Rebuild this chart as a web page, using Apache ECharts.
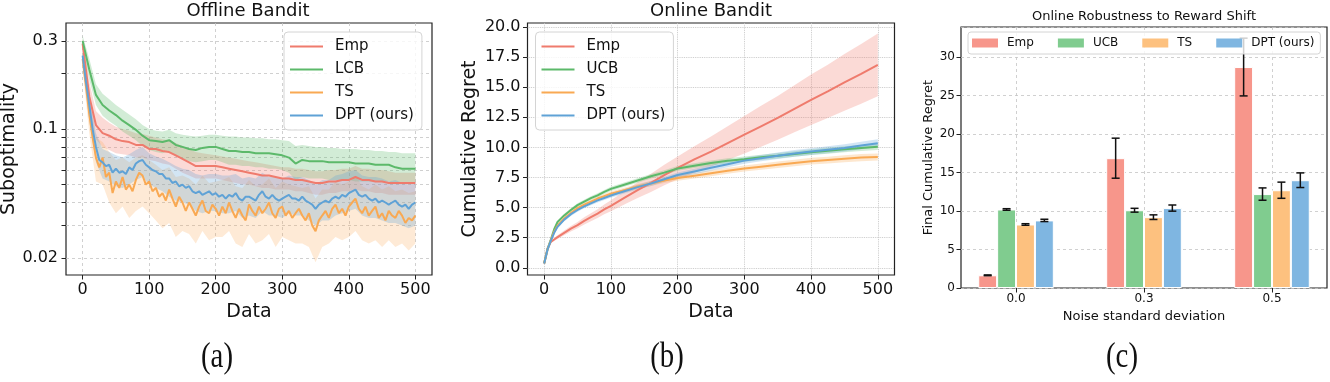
<!DOCTYPE html>
<html>
<head>
<meta charset="utf-8">
<script src="https://cdn.jsdelivr.net/npm/echarts@6/dist/echarts.min.js"></script>
<style>
  html, body { margin: 0; padding: 0; background: #fff; }
  #main { width: 1330px; height: 382px; }
</style>
</head>
<body>
<div id="main"></div>
<script>
// ---------- (a) offline bandit, read every 10 steps (bands, Emp, LCB) / 5 steps (TS, DPT)
var empA   = [0.29,0.15,0.105,0.095,0.092,0.088,0.086,0.085,0.082,0.082,
              0.078,0.078,0.076,0.075,0.072,0.069,0.066,0.063,0.063,0.063,
              0.063,0.062,0.061,0.06,0.059,0.058,0.057,0.056,0.056,0.055,
              0.054,0.054,0.053,0.053,0.052,0.051,0.051,0.052,0.052,0.053,
              0.053,0.055,0.053,0.053,0.052,0.052,0.051,0.051,0.051,0.051,0.051];
var empAHi = [0.31,0.18,0.125,0.115,0.108,0.103,0.1,0.098,0.095,0.094,
              0.092,0.09,0.088,0.087,0.084,0.081,0.078,0.075,0.074,0.073,
              0.072,0.071,0.07,0.069,0.068,0.067,0.066,0.065,0.064,0.063,
              0.062,0.062,0.061,0.061,0.06,0.059,0.059,0.06,0.06,0.061,
              0.061,0.063,0.061,0.061,0.06,0.06,0.059,0.058,0.058,0.058,0.058];
var empALo = [0.27,0.125,0.088,0.08,0.077,0.074,0.073,0.072,0.07,0.07,
              0.068,0.067,0.065,0.064,0.061,0.058,0.056,0.054,0.054,0.054,
              0.054,0.053,0.052,0.051,0.05,0.05,0.049,0.048,0.048,0.047,
              0.047,0.047,0.046,0.046,0.045,0.044,0.044,0.045,0.045,0.046,
              0.046,0.047,0.046,0.046,0.045,0.045,0.044,0.044,0.044,0.044,0.044];

var lcbA   = [0.3,0.21,0.153,0.135,0.126,0.119,0.111,0.105,0.099,0.092,
              0.087,0.086,0.085,0.087,0.082,0.08,0.078,0.077,0.079,0.08,
              0.08,0.078,0.076,0.076,0.075,0.075,0.074,0.074,0.074,0.073,
              0.072,0.07,0.065,0.068,0.067,0.067,0.067,0.066,0.066,0.066,
              0.066,0.065,0.065,0.065,0.064,0.064,0.064,0.062,0.061,0.061,0.061];
var lcbAHi = [0.32,0.24,0.175,0.155,0.145,0.135,0.127,0.12,0.113,0.105,
              0.1,0.098,0.097,0.099,0.095,0.093,0.092,0.091,0.092,0.093,
              0.093,0.092,0.091,0.091,0.09,0.09,0.089,0.089,0.088,0.088,
              0.087,0.086,0.081,0.082,0.081,0.08,0.08,0.079,0.079,0.078,
              0.078,0.078,0.077,0.077,0.076,0.076,0.075,0.075,0.074,0.074,0.074];
var lcbALo = [0.28,0.185,0.135,0.118,0.11,0.104,0.097,0.092,0.087,0.081,
              0.077,0.075,0.074,0.076,0.071,0.069,0.067,0.066,0.067,0.068,
              0.068,0.066,0.064,0.064,0.063,0.063,0.062,0.062,0.061,0.061,
              0.06,0.058,0.053,0.055,0.054,0.054,0.054,0.053,0.053,0.053,
              0.053,0.052,0.052,0.052,0.052,0.052,0.052,0.051,0.051,0.051,0.051];

var tsA    = [0.24,0.17,0.12,0.09,0.07,0.062,0.07,0.055,0.058,0.045,
              0.052,0.048,0.055,0.047,0.05,0.046,0.053,0.058,0.056,0.05,
              0.052,0.046,0.048,0.043,0.045,0.041,0.047,0.042,0.038,0.043,
              0.04,0.036,0.04,0.037,0.034,0.038,0.041,0.036,0.035,0.039,
              0.037,0.034,0.038,0.035,0.04,0.036,0.033,0.037,0.034,0.032,
              0.039,0.036,0.034,0.038,0.035,0.037,0.04,0.035,0.033,0.037,
              0.038,0.034,0.036,0.033,0.035,0.037,0.034,0.032,0.035,0.03,
              0.028,0.032,0.034,0.036,0.033,0.037,0.039,0.035,0.037,0.034,
              0.038,0.04,0.042,0.037,0.035,0.038,0.034,0.036,0.038,0.033,
              0.035,0.032,0.036,0.034,0.033,0.036,0.034,0.031,0.033,0.032,0.034];
var tsAHi  = [0.27,0.15,0.09,0.085,0.075,0.068,0.07,0.066,0.07,0.072,
              0.068,0.064,0.06,0.062,0.055,0.056,0.054,0.05,0.056,0.051,
              0.052,0.053,0.055,0.049,0.048,0.053,0.049,0.05,0.054,0.048,
              0.052,0.05,0.049,0.048,0.049,0.042,0.047,0.047,0.052,0.05,
              0.052,0.056,0.049,0.047,0.05,0.047,0.049,0.046,0.047,0.045,0.046];
var tsALo  = [0.21,0.095,0.052,0.05,0.04,0.035,0.038,0.033,0.036,0.038,
              0.035,0.032,0.029,0.031,0.026,0.028,0.027,0.024,0.028,0.025,
              0.026,0.026,0.028,0.024,0.023,0.027,0.024,0.025,0.027,0.023,
              0.026,0.025,0.024,0.024,0.023,0.019,0.023,0.024,0.026,0.025,
              0.026,0.028,0.025,0.024,0.025,0.023,0.025,0.023,0.024,0.022,0.024];

var dptA   = [0.25,0.18,0.135,0.1,0.08,0.068,0.066,0.063,0.064,0.058,
              0.061,0.058,0.059,0.057,0.062,0.06,0.065,0.067,0.068,0.064,
              0.062,0.06,0.059,0.057,0.057,0.054,0.054,0.051,0.052,0.049,
              0.05,0.048,0.049,0.046,0.045,0.046,0.044,0.045,0.046,0.044,
              0.045,0.043,0.044,0.042,0.044,0.043,0.045,0.042,0.041,0.043,
              0.043,0.042,0.041,0.044,0.046,0.043,0.042,0.044,0.042,0.041,
              0.042,0.043,0.044,0.042,0.042,0.041,0.043,0.041,0.04,0.039,
              0.037,0.039,0.04,0.041,0.04,0.042,0.043,0.042,0.044,0.043,
              0.045,0.046,0.047,0.044,0.043,0.044,0.042,0.041,0.042,0.04,
              0.041,0.04,0.039,0.04,0.041,0.039,0.038,0.039,0.037,0.039,0.04];
var dptAHi = [0.27,0.16,0.095,0.078,0.075,0.072,0.07,0.073,0.077,0.08,
              0.074,0.071,0.069,0.066,0.063,0.061,0.06,0.057,0.056,0.057,
              0.057,0.056,0.056,0.057,0.054,0.055,0.054,0.058,0.055,0.055,
              0.054,0.056,0.055,0.055,0.053,0.05,0.053,0.053,0.056,0.057,
              0.059,0.06,0.056,0.055,0.055,0.054,0.052,0.053,0.051,0.05,0.052];
var dptALo = [0.23,0.11,0.066,0.054,0.052,0.049,0.048,0.05,0.053,0.055,
              0.05,0.048,0.046,0.043,0.041,0.04,0.039,0.036,0.035,0.036,
              0.036,0.035,0.035,0.036,0.033,0.034,0.033,0.036,0.034,0.034,
              0.033,0.035,0.034,0.034,0.032,0.03,0.032,0.032,0.034,0.035,
              0.036,0.037,0.034,0.033,0.033,0.032,0.031,0.031,0.03,0.029,0.03];

var yTicksA = [0.02, 0.1, 0.3];
var yGridA = [0.02, 0.03, 0.04, 0.05, 0.06, 0.07, 0.08, 0.09, 0.1, 0.2, 0.3];
var xTicks = [0, 100, 200, 300, 400, 500];

// ---------- (b) online bandit
var xB = [0,5,10,15,20,30,40,50,60,70,80,90,100,120,140,160,180,200,225,250,275,300,325,350,375,400,425,450,475,500];
var empB = [0.35,1.6,2.15,2.35,2.55,2.9,3.25,3.55,3.9,4.2,4.5,4.85,5.15,5.8,6.45,7.05,7.7,8.3,9.0,9.65,10.35,11.05,11.75,12.45,13.2,13.95,14.65,15.4,16.1,16.85];
var empBSpread = [0,0.05,0.08,0.12,0.15,0.2,0.23,0.26,0.3,0.33,0.37,0.41,0.45,0.55,0.65,0.75,0.85,0.95,1.1,1.25,1.4,1.55,1.7,1.82,1.95,2.1,2.22,2.35,2.48,2.6];
var ucbB = [0.38,1.55,2.35,3.2,3.8,4.35,4.8,5.2,5.5,5.78,6.02,6.3,6.55,6.9,7.25,7.6,7.9,8.25,8.48,8.7,8.88,9.02,9.17,9.3,9.45,9.6,9.72,9.85,9.95,10.05];
var ucbBSpread = [0,0.05,0.08,0.1,0.12,0.13,0.14,0.15,0.15,0.16,0.16,0.17,0.17,0.18,0.18,0.19,0.19,0.2,0.2,0.21,0.21,0.22,0.22,0.23,0.23,0.24,0.24,0.25,0.25,0.26];
var tsB = [0.38,1.5,2.3,3.0,3.5,4.1,4.55,4.95,5.25,5.5,5.75,5.95,6.15,6.45,6.75,7.0,7.25,7.45,7.65,7.85,8.05,8.25,8.4,8.55,8.7,8.85,8.95,9.05,9.15,9.2];
var tsBSpread = [0,0.05,0.08,0.1,0.12,0.13,0.14,0.15,0.16,0.16,0.17,0.17,0.18,0.19,0.2,0.2,0.21,0.22,0.23,0.24,0.25,0.25,0.26,0.27,0.27,0.28,0.28,0.29,0.3,0.3];
var dptB = [0.35,1.5,2.25,2.9,3.4,4.0,4.45,4.8,5.1,5.35,5.6,5.8,6.0,6.35,6.7,7.0,7.35,7.7,8.0,8.3,8.6,8.9,9.1,9.3,9.5,9.65,9.8,9.95,10.15,10.35];
var dptBSpread = [0,0.05,0.08,0.1,0.12,0.13,0.14,0.15,0.16,0.16,0.17,0.17,0.18,0.19,0.2,0.2,0.21,0.22,0.23,0.24,0.25,0.25,0.26,0.27,0.28,0.28,0.29,0.3,0.31,0.32];
var yTicksB = [0, 2.5, 5, 7.5, 10, 12.5, 15, 17.5, 20];

// ---------- (c) robustness to reward shift
var noiseLabels = ['0.0', '0.3', '0.5'];
var empC = [1.65, 16.86, 28.7],  empErr = [0.05, 2.6, 3.75];
var ucbC = [10.2, 10.1, 12.2],   ucbErr = [0.1, 0.25, 0.8];
var tsC  = [8.25, 9.2, 12.7],    tsErr  = [0.1, 0.3, 1.05];
var dptC = [8.78, 10.38, 14.0],  dptErr = [0.15, 0.4, 0.95];

var lineColors = { emp: '#ef7b6d', lcb: '#5cb96a', ts: '#f9a953', dpt: '#5fa2d6' };
var barColors  = { emp: '#f7968b', ucb: '#80cc8f', ts: '#fdc17f', dpt: '#7fb6e1' };
var font = 'DejaVu Sans';
var barW = 18.9;

var xA10 = [], xA5 = [];
for (var i = 0; i <= 500; i += 10) xA10.push(i);
for (var j = 0; j <= 500; j += 5) xA5.push(j);

function pairs(xs, ys) {
  return xs.map(function (x, i) { return [x, ys[i]]; });
}

function lineSeries(name, xs, ys, color, gi) {
  return {
    name: name, type: 'line', xAxisIndex: gi, yAxisIndex: gi,
    data: pairs(xs, ys), symbol: 'none', showSymbol: false,
    lineStyle: { color: color, width: 2 }, itemStyle: { color: color },
    animation: false, silent: true
  };
}

// shaded band: one polygon through the hi points and back along the lo points
function bandSeries(xs, lo, hi, color, gi, alpha) {
  return {
    type: 'custom', xAxisIndex: gi, yAxisIndex: gi, clip: true,
    data: xs.map(function (x, i) { return [x, lo[i], hi[i]]; }),
    encode: { x: 0, y: [1, 2] },
    renderItem: function (params, api) {
      if (params.dataIndex !== 0) return null;
      var pts = [];
      for (var i = 0; i < xs.length; i++) pts.push(api.coord([xs[i], hi[i]]));
      for (var k = xs.length - 1; k >= 0; k--) pts.push(api.coord([xs[k], lo[k]]));
      return { type: 'polygon', shape: { points: pts }, style: { fill: color, opacity: alpha || 0.28 } };
    },
    animation: false, silent: true
  };
}

function spreadBand(xs, mean, spread, color, gi) {
  var lo = mean.map(function (m, i) { return m - spread[i]; });
  var hi = mean.map(function (m, i) { return m + spread[i]; });
  return bandSeries(xs, lo, hi, color, gi);
}

function barSeries(name, vals, color) {
  return {
    name: name, type: 'bar', xAxisIndex: 2, yAxisIndex: 2,
    data: vals.map(function (v, i) { return [i, v]; }),
    barWidth: barW, barGap: '0%',
    itemStyle: { color: color, borderColor: '#fff', borderWidth: 1 },
    animation: false, silent: true
  };
}

function errSeries(vals, errs, k) {
  return {
    type: 'custom', xAxisIndex: 2, yAxisIndex: 2, z: 3,
    data: vals.map(function (v, i) { return [i, v - errs[i], v + errs[i]]; }),
    encode: { x: 0, y: [1, 2] },
    renderItem: function (params, api) {
      var lo = api.coord([api.value(0), api.value(1)]);
      var hi = api.coord([api.value(0), api.value(2)]);
      var x = lo[0] + (k - 1.5) * barW;
      var st = { stroke: '#111', lineWidth: 1.5 };
      return {
        type: 'group', children: [
          { type: 'line', shape: { x1: x, y1: lo[1], x2: x, y2: hi[1] }, style: st },
          { type: 'line', shape: { x1: x - 4, y1: lo[1], x2: x + 4, y2: lo[1] }, style: st },
          { type: 'line', shape: { x1: x - 4, y1: hi[1], x2: x + 4, y2: hi[1] }, style: st }
        ]
      };
    },
    animation: false, silent: true
  };
}

function nearestLabel(v, list) {
  var best = list[0];
  list.forEach(function (t) { if (Math.abs(t - v) < Math.abs(best - v)) best = t; });
  return String(best);
}

var gridLine = { show: true, lineStyle: { color: '#c4c4c4', type: [3, 3], width: 0.8 } };
var dotLine = { show: true, lineStyle: { color: '#c4c4c4', type: 'dotted', width: 0.9 } };
var tickStyle = { show: true, length: 4.5, lineStyle: { color: '#222', width: 1 } };
var frame = { show: true, borderColor: '#222', borderWidth: 1.2, containLabel: false, outerBoundsMode: 'none' };

var chart = echarts.init(document.getElementById('main'), null, { renderer: 'canvas' });

var series = [
  bandSeries(xA10, empALo, empAHi, lineColors.emp, 0),
  lineSeries('Emp', xA10, empA, lineColors.emp, 0),
  bandSeries(xA10, lcbALo, lcbAHi, lineColors.lcb, 0),
  lineSeries('LCB', xA10, lcbA, lineColors.lcb, 0),
  bandSeries(xA10, tsALo, tsAHi, lineColors.ts, 0, 0.24),
  lineSeries('TS', xA5, tsA, lineColors.ts, 0),
  bandSeries(xA10, dptALo, dptAHi, lineColors.dpt, 0),
  lineSeries('DPT (ours)', xA5, dptA, lineColors.dpt, 0),

  spreadBand(xB, empB, empBSpread, lineColors.emp, 1),
  lineSeries('Emp', xB, empB, lineColors.emp, 1),
  spreadBand(xB, ucbB, ucbBSpread, lineColors.lcb, 1),
  lineSeries('UCB', xB, ucbB, lineColors.lcb, 1),
  spreadBand(xB, tsB, tsBSpread, lineColors.ts, 1),
  lineSeries('TS', xB, tsB, lineColors.ts, 1),
  spreadBand(xB, dptB, dptBSpread, lineColors.dpt, 1),
  lineSeries('DPT (ours)', xB, dptB, lineColors.dpt, 1),

  barSeries('Emp', empC, barColors.emp),
  barSeries('UCB', ucbC, barColors.ucb),
  barSeries('TS', tsC, barColors.ts),
  barSeries('DPT (ours)', dptC, barColors.dpt),
  errSeries(empC, empErr, 0),
  errSeries(ucbC, ucbErr, 1),
  errSeries(tsC, tsErr, 2),
  errSeries(dptC, dptErr, 3)
];

function lineLegend(left, names, colors) {
  return {
    left: left, top: 32, orient: 'vertical', itemWidth: 33, itemHeight: 2, itemGap: 8,
    padding: [7, 8, 7, 6], backgroundColor: 'rgba(255,255,255,0.8)',
    borderColor: '#d4d4d4', borderWidth: 1, borderRadius: 4, selectedMode: false, z: 10,
    textStyle: { fontSize: 15, color: '#111', fontFamily: font, padding: [0, 0, 0, 7] },
    data: names.map(function (n, i) {
      return { name: n, icon: 'rect', itemStyle: { color: colors[i], borderWidth: 0 } };
    })
  };
}

var option = {
  backgroundColor: '#fff',
  animation: false,
  textStyle: { fontFamily: font },
  grid: [
    Object.assign({ left: 66, top: 23, width: 366, height: 252 }, frame),
    Object.assign({ left: 527.5, top: 23, width: 367, height: 252 }, frame),
    Object.assign({ left: 961, top: 27, width: 366, height: 261 }, frame)
  ],
  xAxis: [{
    gridIndex: 0, type: 'value', min: -25, max: 525,
    axisLine: { show: false, onZero: false },
    axisTick: Object.assign({ customValues: xTicks }, tickStyle),
    axisLabel: { customValues: xTicks, fontSize: 16, color: '#111', margin: 7 },
    splitLine: gridLine,
    name: 'Data', nameLocation: 'middle', nameGap: 24,
    nameTextStyle: { fontSize: 19, color: '#111' }
  }, {
    gridIndex: 1, type: 'value', min: -25, max: 525,
    axisLine: { show: false, onZero: false },
    axisTick: Object.assign({ customValues: xTicks }, tickStyle),
    axisLabel: { customValues: xTicks, fontSize: 16, color: '#111', margin: 7 },
    splitLine: dotLine,
    name: 'Data', nameLocation: 'middle', nameGap: 24,
    nameTextStyle: { fontSize: 19, color: '#111' }
  }, {
    gridIndex: 2, type: 'value', min: -0.43, max: 2.43,
    axisLine: { show: false, onZero: false },
    axisTick: Object.assign({ customValues: [0, 1, 2] }, tickStyle),
    axisLabel: {
      customValues: [0, 1, 2], fontSize: 12, color: '#111', margin: 5,
      formatter: function (v) { return noiseLabels[Math.round(v)]; }
    },
    splitLine: gridLine,
    name: 'Noise standard deviation', nameLocation: 'middle', nameGap: 18,
    nameTextStyle: { fontSize: 13, color: '#111' }
  }],
  yAxis: [{
    gridIndex: 0, type: 'log', logBase: 10, min: 0.0162, max: 0.375,
    axisLine: { show: false, onZero: false },
    axisTick: Object.assign({ customValues: yGridA }, tickStyle),
    axisLabel: {
      customValues: yTicksA, fontSize: 16, color: '#111', margin: 8,
      formatter: function (v) { return nearestLabel(v, yTicksA); }
    },
    splitLine: gridLine,
    name: 'Suboptimality', nameLocation: 'middle', nameGap: 47,
    nameTextStyle: { fontSize: 19, color: '#111' }
  }, {
    gridIndex: 1, type: 'value', min: -0.6, max: 20.33,
    axisLine: { show: false, onZero: false },
    axisTick: Object.assign({ customValues: yTicksB }, tickStyle),
    axisLabel: {
      customValues: yTicksB, fontSize: 16, color: '#111', margin: 7,
      formatter: function (v) { return v.toFixed(1); }
    },
    splitLine: dotLine,
    name: 'Cumulative Regret', nameLocation: 'middle', nameGap: 48,
    nameTextStyle: { fontSize: 19, color: '#111' }
  }, {
    gridIndex: 2, type: 'value', min: 0, max: 33.9, interval: 5,
    axisLine: { show: false, onZero: false },
    axisTick: tickStyle,
    axisLabel: { fontSize: 12, color: '#111', margin: 6, showMaxLabel: false },
    splitLine: gridLine,
    name: 'Final Cumulative Regret', nameLocation: 'middle', nameGap: 26,
    nameTextStyle: { fontSize: 13, color: '#111' }
  }],
  legend: [
    lineLegend(284, ['Emp', 'LCB', 'TS', 'DPT (ours)'], [lineColors.emp, lineColors.lcb, lineColors.ts, lineColors.dpt]),
    lineLegend(535.5, ['Emp', 'UCB', 'TS', 'DPT (ours)'], [lineColors.emp, lineColors.lcb, lineColors.ts, lineColors.dpt]),
    {
      left: 968, top: 32, orient: 'horizontal', itemWidth: 26, itemHeight: 9, itemGap: 24,
      padding: [5, 6, 5, 4], backgroundColor: 'rgba(255,255,255,0.8)',
      borderColor: '#d4d4d4', borderWidth: 1, borderRadius: 3, selectedMode: false, z: 10,
      textStyle: { fontSize: 12, color: '#111', fontFamily: font, padding: [0, 0, 0, 4] },
      data: [
        { name: 'Emp', icon: 'rect', itemStyle: { color: barColors.emp, borderWidth: 0 } },
        { name: 'UCB', icon: 'rect', itemStyle: { color: barColors.ucb, borderWidth: 0 } },
        { name: 'TS', icon: 'rect', itemStyle: { color: barColors.ts, borderWidth: 0 } },
        { name: 'DPT (ours)', icon: 'rect', itemStyle: { color: barColors.dpt, borderWidth: 0 } }
      ]
    }
  ],
  graphic: [
    { type: 'text', x: 248, y: 11.5, style: { text: 'Offline Bandit', fontSize: 18, fontFamily: font, fill: '#111', align: 'center', verticalAlign: 'middle' } },
    { type: 'text', x: 711, y: 11.5, style: { text: 'Online Bandit', fontSize: 18, fontFamily: font, fill: '#111', align: 'center', verticalAlign: 'middle' } },
    { type: 'text', x: 1144, y: 16.5, style: { text: 'Online Robustness to Reward Shift', fontSize: 13, fontFamily: font, fill: '#111', align: 'center', verticalAlign: 'middle' } },
    { type: 'text', x: 217, y: 358, scaleX: 0.8, style: { text: '(a)', fontSize: 36, fontFamily: 'Liberation Serif', fill: '#111', align: 'center', verticalAlign: 'middle' } },
    { type: 'text', x: 667, y: 358, scaleX: 0.8, style: { text: '(b)', fontSize: 36, fontFamily: 'Liberation Serif', fill: '#111', align: 'center', verticalAlign: 'middle' } },
    { type: 'text', x: 1122, y: 358, scaleX: 0.8, style: { text: '(c)', fontSize: 36, fontFamily: 'Liberation Serif', fill: '#111', align: 'center', verticalAlign: 'middle' } }
  ],
  series: series
};

chart.setOption(option);
</script>
</body>
</html>
